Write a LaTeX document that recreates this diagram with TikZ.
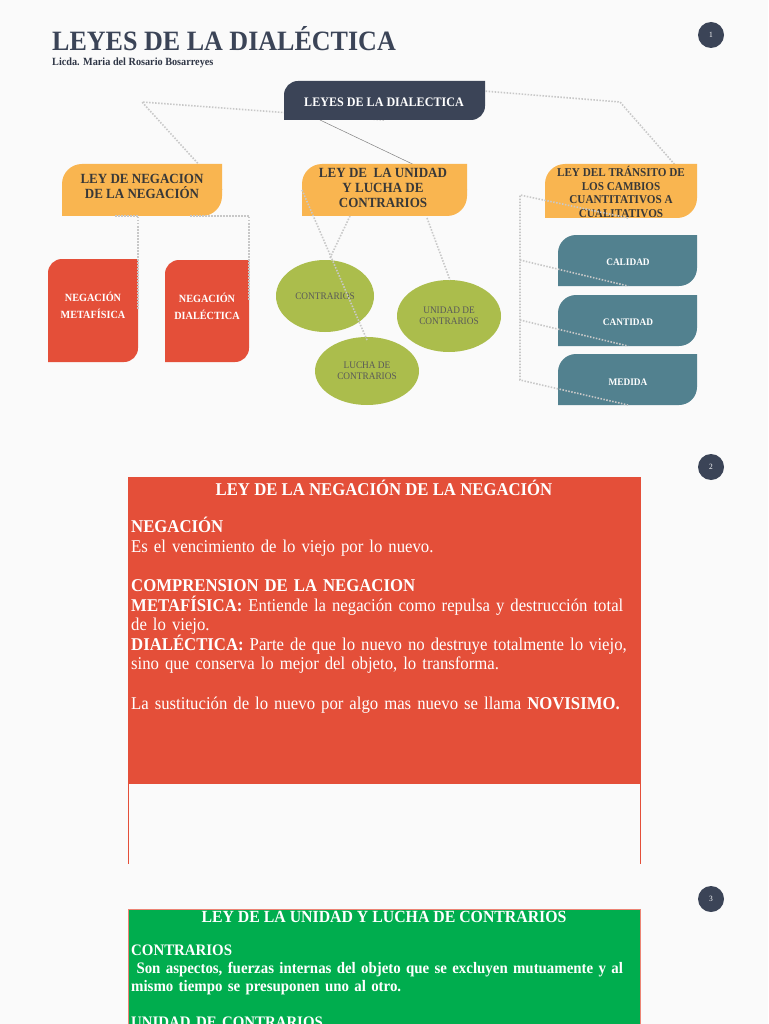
\documentclass[tikz,border=0pt]{standalone}
\usepackage{fontspec}
\setmainfont{Liberation Serif}[FakeStretch=0.93]
\usetikzlibrary{shapes.geometric}
\definecolor{navy}{HTML}{3B4457}
\definecolor{orng}{HTML}{F9B550}
\definecolor{redb}{HTML}{E44F39}
\definecolor{grn}{HTML}{ABBD4C}
\definecolor{teal}{HTML}{52818F}
\definecolor{gbox}{HTML}{00AD4E}
\definecolor{dots}{HTML}{C8C8C8}
\newcommand{\leafshape}[6]{% x1 y1 x2 y2 color radius
  \fill[#5] (#1,#4) -- (#1,#2+#6) to[out=90,in=180] (#1+#6,#2) -- (#3,#2) -- (#3,#4-#6) to[out=-90,in=0] (#3-#6,#4) -- cycle;}
\tikzset{
  dl/.style={dots, line width=1.6pt, dash pattern=on 1.5pt off 1.5pt},
  num/.style={circle, fill=navy, minimum size=26pt, inner sep=0pt, text=white, font=\fontsize{8}{8}\selectfont},
  ot/.style={text=black!78, font=\bfseries\fontsize{14}{15}\selectfont, align=center},
  wt/.style={text=white, font=\bfseries\fontsize{11}{17}\selectfont, align=center},
  gt/.style={text=black!65, font=\fontsize{10}{11}\selectfont, align=center},
  el/.style={ellipse, fill=grn, inner sep=0pt},
}
\begin{document}
\hyphenpenalty=10000
\begin{tikzpicture}[x=1pt,y=-1pt]
\useasboundingbox (0,0) rectangle (768,1024);
\fill[white!98!black] (0,0) rectangle (768,1024);
% title
\node[anchor=base west, inner sep=0pt, text=navy, font=\bfseries\fontsize{28}{28}\selectfont] (title) at (52,51) {LEYES DE LA DIALÉCTICA};
\node[anchor=base west, inner sep=0pt, text=navy!80!black, font=\bfseries\fontsize{11}{11}\selectfont] (sub) at (52,66) {Licda. Maria del Rosario Bosarreyes};
\node[num] (n1) at (711,35) {1};
\node[num] (n2) at (711,467) {2};
\node[num] (n3) at (711,899) {3};
% connectors (behind)
\coordinate (l1) at (142,102);
\coordinate (r1) at (620,102);
\draw[dl] (384,120) -- (l1) -- (222,190);
\draw[dl] (384,83) -- (r1) -- (697,190);
\draw[gray, line width=0.5pt] (320,120) -- (467,190);
% shapes
\leafshape{284}{81}{485}{120}{navy}{14}
\node[text=white, font=\bfseries\fontsize{13}{13}\selectfont] (root) at (384,102) {LEYES DE LA DIALECTICA};
\leafshape{62}{164}{222}{216}{orng}{20}
\leafshape{302}{164}{467}{216}{orng}{20}
\leafshape{545}{164}{697}{218}{orng}{20}
\node[ot] (a) at (142,186) {LEY DE NEGACION\\DE LA NEGACIÓN};
\node[ot] (b) at (383,188) {LEY DE \ LA UNIDAD\\Y LUCHA DE\\CONTRARIOS};
\node[ot, font=\bfseries\fontsize{12}{13.5}\selectfont] (c) at (621,192) {LEY DEL TRÁNSITO DE\\LOS CAMBIOS\\CUANTITATIVOS A\\CUALITATIVOS};
\leafshape{48}{259}{138}{362}{redb}{14}
\leafshape{165}{260}{249}{362}{redb}{14}
\node[wt] (m) at (93,305) {NEGACIÓN\\METAFÍSICA};
\node[wt] (d) at (207,306) {NEGACIÓN\\DIALÉCTICA};
\node[el, minimum width=98pt, minimum height=72pt] (e1) at (325,296) {};
\node[el, minimum width=104pt, minimum height=72pt] (e2) at (449,316) {};
\node[el, minimum width=104pt, minimum height=68pt] (e3) at (367,371) {};
\node[gt] at (e1) {CONTRARIOS};
\node[gt] at (e2) {UNIDAD DE\\CONTRARIOS};
\node[gt] at (e3) {LUCHA DE\\CONTRARIOS};
\leafshape{558}{235}{697}{286}{teal}{18}
\leafshape{558}{295}{697}{346}{teal}{18}
\leafshape{558}{354}{697}{405}{teal}{18}
\node[wt, font=\bfseries\fontsize{10}{10}\selectfont] (q1) at (628,262) {CALIDAD};
\node[wt, font=\bfseries\fontsize{10}{10}\selectfont] (q2) at (628,322) {CANTIDAD};
\node[wt, font=\bfseries\fontsize{10}{10}\selectfont] (q3) at (628,382) {MEDIDA};
% dotted connectors over shapes
\draw[dl] (115,216) -- (138,216) -- (138,310);
\draw[dl] (190,216) -- (249,216) -- (249,300);
\draw[dl] (350,216) -- (330,258);
\draw[dl] (302,190) -- (367,340);
\draw[dl] (427,218) -- (450,280);
\draw[dl] (628,218) -- (520,195) -- (520,380) -- (628,405);
\draw[dl] (520,260) -- (628,286);
\draw[dl] (520,320) -- (628,346);
% panel 2
\fill[redb] (128,477) rectangle (641,784);
\draw[redb, line width=0.8pt] (128.5,784) -- (128.5,864) (640.5,784) -- (640.5,864);
\node[anchor=north, text=white, font=\bfseries\fontsize{18}{20}\selectfont] (h2) at (384,477) {LEY DE LA NEGACIÓN DE LA NEGACIÓN};
\node[anchor=north west, text=white, inner sep=0pt, text width=508pt, align=left, font=\fontsize{18}{19.6}\selectfont] (t2) at (131,517) {%
\textbf{NEGACIÓN}\\
Es el vencimiento de lo viejo por lo nuevo.\\[19.6pt]
\textbf{COMPRENSION DE LA NEGACION}\\
\textbf{METAFÍSICA:} Entiende la negación como repulsa y destrucción total de lo viejo.\\
\textbf{DIALÉCTICA:} Parte de que lo nuevo no destruye totalmente lo viejo, sino que conserva lo mejor del objeto, lo transforma.\\[19.6pt]
La sustitución de lo nuevo por algo mas nuevo se llama \textbf{NOVISIMO.}};
% panel 3
\fill[gbox] (128,909) rectangle (641,1030);
\draw[redb!70, line width=0.8pt] (128.5,1030) -- (128.5,909.5) -- (640.5,909.5) -- (640.5,1030);
\node[anchor=north, text=white, font=\bfseries\fontsize{17}{19}\selectfont] (h3) at (384,908) {LEY DE LA UNIDAD Y LUCHA DE CONTRARIOS};
\node[anchor=north west, text=white, inner sep=0pt, text width=496pt, align=left, font=\bfseries\fontsize{16}{18}\selectfont] (t3) at (131,945) {%
CONTRARIOS\\
\ Son aspectos, fuerzas internas del objeto que se excluyen mutuamente y al mismo tiempo se presuponen uno al otro.\\[18pt]
UNIDAD DE CONTRARIOS};
\end{tikzpicture}
\end{document}
